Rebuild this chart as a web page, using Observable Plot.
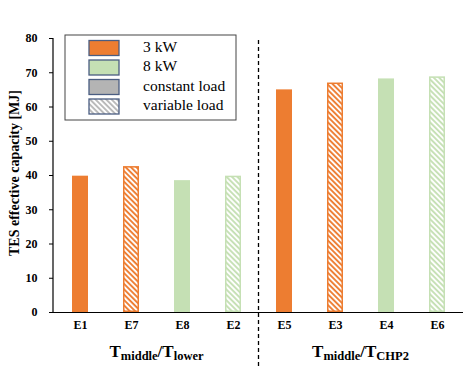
<!DOCTYPE html>
<html><head><meta charset="utf-8">
<script src="https://cdn.jsdelivr.net/npm/d3@7"></script>
<script src="https://cdn.jsdelivr.net/npm/@observablehq/plot@0.6"></script>
<style>
body{margin:0;background:#fff}
#chart{position:relative;width:474px;height:376px}
</style>
</head><body><div id="chart"></div>
<script>
// ---- data ----
const experiments = ["E1","E7","E8","E2","E5","E3","E4","E6"];
const capacities = [39.8, 42.6, 38.5, 39.8, 65.0, 67.0, 68.2, 68.8];
const powers = ["3 kW","3 kW","8 kW","8 kW","3 kW","3 kW","8 kW","8 kW"];
const loads = ["constant","variable","constant","variable","constant","variable","constant","variable"];
const yTicks = [0,10,20,30,40,50,60,70,80];
const groupLabels = [["middle","lower"],["middle","CHP2"]];
const groupMembers = [["E7","E8"],["E3","E4"]];
const legendLabels = ["3 kW","8 kW","constant load","variable load"];
const yTitle = "TES effective capacity [MJ]";

const powerColor = {"3 kW":"#ED7D31","8 kW":"#C5E0B4"};
const hatchId = {"3 kW":"hatch-o","8 kW":"hatch-g"};
const serif = "'Liberation Serif', 'Times New Roman', serif";

const data = experiments.map((e,i)=>({exp:e, value:capacities[i], power:powers[i], load:loads[i]}));

const W=474,H=376,mL=53,mR=11,mT=38,mB=64;

function defs(){
  const d = d3.create("svg:defs");
  const mk = (id, color, sw) => {
    const p = d.append("pattern").attr("id",id).attr("patternUnits","userSpaceOnUse")
      .attr("width",3.8).attr("height",10).attr("patternTransform","rotate(-45)");
    p.append("rect").attr("width",3.8).attr("height",10).attr("fill","#fff");
    p.append("line").attr("x1",1).attr("x2",1).attr("y1",0).attr("y2",10)
      .attr("stroke",color).attr("stroke-width",sw);
  };
  mk("hatch-o", powerColor["3 kW"], 1.9);
  mk("hatch-g", powerColor["8 kW"], 1.9);
  mk("hatch-l", "#b8b8b8", 1.9);
  return d.node();
}

const plot = Plot.plot({
  width: W, height: H,
  marginLeft: mL, marginRight: mR, marginTop: mT, marginBottom: mB,
  style: {fontFamily: serif, color: "#000", background: "#fff"},
  x: {domain: experiments, paddingInner: 0.69, paddingOuter: 0.345, label: null},
  y: {domain: [0, 80], label: null},
  color: {type: "identity"},
  marks: [
    defs,
    Plot.barY(data.filter(d=>d.load==="constant"), {x:"exp", y:"value", fill: d=>powerColor[d.power]}),
    Plot.barY(data.filter(d=>d.load==="variable"), {x:"exp", y:"value", fill: d=>`url(#${hatchId[d.power]})`, stroke: d=>powerColor[d.power], strokeWidth: 1.5, inset: 0.75}),
    Plot.ruleY([0], {stroke:"#000", strokeWidth: 1.2}),
    Plot.axisY({ticks: yTicks, tickSize: 4, tickPadding: 12, fontSize: 12, fontWeight: "bold", fontFamily: serif, label: null}),
    Plot.axisX({tickSize: 0, tickPadding: 8, fontSize: 12, fontWeight: "bold", fontFamily: serif, label: null})
  ]
});
document.getElementById("chart").appendChild(plot);

const svg = d3.select(plot);
const x = plot.scale("x"), y = plot.scale("y");
const cx = e => x.apply(e) + x.bandwidth/2;

// y axis line
svg.append("line").attr("x1",mL).attr("x2",mL).attr("y1",y.apply(0)).attr("y2",y.apply(80))
  .attr("stroke","#000").attr("stroke-width",1.2);

// dashed separator
const sep = (x.apply("E2") + x.bandwidth + x.apply("E5"))/2;
svg.append("line").attr("x1",sep).attr("x2",sep).attr("y1",y.apply(80)+2).attr("y2",H-9)
  .attr("stroke","#000").attr("stroke-width",1.3).attr("stroke-dasharray","4,3");

// group labels
groupLabels.forEach((g,i)=>{
  const c = (cx(groupMembers[i][0]) + cx(groupMembers[i][1]))/2;
  const t = svg.append("text").attr("x",c).attr("y",357)
    .style("text-anchor","middle").style("font-family",serif).style("font-weight","bold")
    .style("font-size","17px").style("fill","#000");
  t.append("tspan").text("T");
  t.append("tspan").style("font-size","12.5px").attr("dy",3).text(g[0]);
  t.append("tspan").attr("dy",-3).text("/T");
  t.append("tspan").style("font-size","12.5px").attr("dy",3).text(g[1]);
});

// y title
svg.append("text").attr("transform","translate(16,173) rotate(-90)")
  .style("text-anchor","middle").attr("dominant-baseline","middle")
  .style("font-family",serif).style("font-weight","bold").style("font-size","14px").style("fill","#000")
  .text(yTitle);

// legend
const lg = svg.append("g");
lg.append("rect").attr("x",65).attr("y",35).attr("width",171).attr("height",85)
  .attr("fill","#fff").attr("stroke","#444").attr("stroke-width",1);
const swFill = [powerColor["3 kW"], powerColor["8 kW"], "#b4b4b4", "url(#hatch-l)"];
legendLabels.forEach((lab,i)=>{
  const yc = 48 + i*19.5;
  lg.append("rect").attr("x",89).attr("y",yc-7.5).attr("width",30).attr("height",15)
    .attr("fill",swFill[i]).attr("stroke","#4a5d82").attr("stroke-width",1.3);
  lg.append("text").attr("x",143).attr("y",yc).attr("dominant-baseline","middle")
    .style("text-anchor","start").style("font-family",serif).style("font-size","15.5px").style("fill","#000").text(lab);
});
</script>
</body></html>
